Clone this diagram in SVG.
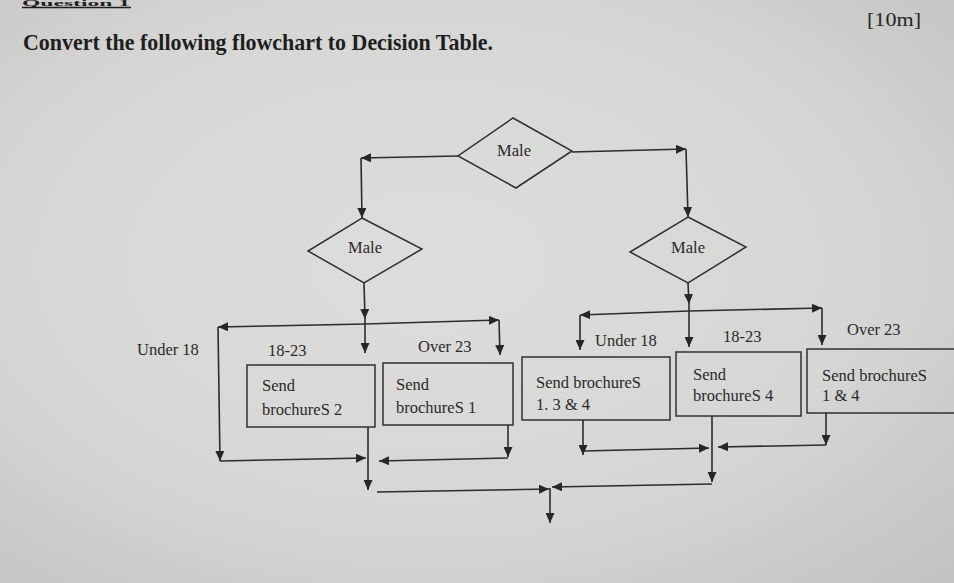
<svg xmlns="http://www.w3.org/2000/svg" width="954" height="583" viewBox="0 0 954 583">
  <defs>
    <radialGradient id="bg" cx="45%" cy="45%" r="75%">
      <stop offset="0" stop-color="#dddddb"/>
      <stop offset="0.6" stop-color="#d6d6d4"/>
      <stop offset="1" stop-color="#c3c4c2"/>
    </radialGradient>
    <marker id="arr" viewBox="0 0 10 9" refX="10" refY="4.5" markerWidth="10" markerHeight="9" markerUnits="userSpaceOnUse" orient="auto">
      <path d="M0,0 L10,4.5 L0,9 z" fill="#262626"/>
    </marker>
  </defs>
  <style>
    .shape { fill: none; stroke: #303030; stroke-width: 1.5; }
    .conn { fill: none; stroke: #2c2c2c; stroke-width: 1.6; marker-end: url(#arr); }
    .lbl { font-family: "Liberation Serif", "Times New Roman", serif; font-size: 16.5px; fill: #2a2a2a; }
    .mid { text-anchor: middle; }
    .title { font-family: "Liberation Serif", "Times New Roman", serif; font-weight: bold; fill: #1e1e1e; }
  </style>

  <rect x="0" y="0" width="954" height="583" fill="url(#bg)"/>

  <!-- header -->
  <g id="header">
    <text class="title" x="22" y="6" font-size="8" textLength="108" lengthAdjust="spacingAndGlyphs">Question 1</text>
    <line x1="22" y1="7.5" x2="131" y2="7.5" stroke="#1e1e1e" stroke-width="1.6"/>
    <text class="title" x="23" y="50" font-size="23" textLength="470" lengthAdjust="spacingAndGlyphs">Convert the following flowchart to Decision Table.</text>
    <text x="867" y="26" font-family="'Liberation Serif', 'Times New Roman', serif" font-size="19" fill="#262626" textLength="54" lengthAdjust="spacingAndGlyphs">[10m]</text>
  </g>

  <!-- decision nodes -->
  <g id="d-top">
    <polygon class="shape" points="513,118 572,151 516,188 458,156"/>
    <text class="lbl mid" x="514" y="156">Male</text>
  </g>
  <g id="d-left">
    <polygon class="shape" points="362,218 422,249 364,283 308,251"/>
    <text class="lbl mid" x="365" y="253">Male</text>
  </g>
  <g id="d-right">
    <polygon class="shape" points="688,217 746,247 688,283 630,252"/>
    <text class="lbl mid" x="688" y="253">Male</text>
  </g>

  <!-- branch labels -->
  <g id="labels">
    <text class="lbl" x="137" y="355">Under 18</text>
    <text class="lbl" x="268" y="356">18-23</text>
    <text class="lbl" x="418" y="352">Over 23</text>
    <text class="lbl" x="595" y="346">Under 18</text>
    <text class="lbl" x="723" y="342">18-23</text>
    <text class="lbl" x="847" y="335">Over 23</text>
  </g>

  <!-- process boxes -->
  <g id="box1">
    <rect class="shape" x="247" y="365" width="128" height="62"/>
    <text class="lbl" x="262" y="391">Send</text>
    <text class="lbl" x="262" y="415">brochureS 2</text>
  </g>
  <g id="box2">
    <rect class="shape" x="383" y="363" width="130" height="62"/>
    <text class="lbl" x="396" y="390">Send</text>
    <text class="lbl" x="396" y="413">brochureS 1</text>
  </g>
  <g id="box3">
    <rect class="shape" x="522" y="357" width="148" height="63"/>
    <text class="lbl" x="536" y="388">Send brochureS</text>
    <text class="lbl" x="536" y="410">1. 3 &amp; 4</text>
  </g>
  <g id="box4">
    <rect class="shape" x="676" y="352" width="125" height="64"/>
    <text class="lbl" x="693" y="380">Send</text>
    <text class="lbl" x="693" y="401">brochureS 4</text>
  </g>
  <g id="box5">
    <rect class="shape" x="807" y="349" width="160" height="64"/>
    <text class="lbl" x="822" y="381">Send brochureS</text>
    <text class="lbl" x="822" y="401">1 &amp; 4</text>
  </g>

  <!-- connectors -->
  <g id="connectors">
    <path class="conn" d="M458,156 L361,158"/>
    <path class="conn" d="M361,158 L362,218"/>
    <path class="conn" d="M572,152 L686,149"/>
    <path class="conn" d="M686,149 L688,217"/>

    <path class="conn" d="M364,283 L365,319"/>
    <path class="conn" d="M365,319 L365,353"/>
    <path class="conn" d="M365,324 L218,327"/>
    <path class="conn" d="M365,324 L499,320"/>
    <path class="conn" d="M218,327 L220,461"/>
    <path class="conn" d="M220,461 L366,458"/>
    <path class="conn" d="M499,320 L500,355"/>
    <path class="conn" d="M368,427 L368,490"/>
    <path class="conn" d="M508,425 L508,457"/>
    <path class="conn" d="M508,458 L379,461"/>

    <path class="conn" d="M688,283 L689,304"/>
    <path class="conn" d="M689,304 L689,347"/>
    <path class="conn" d="M689,311 L580,315"/>
    <path class="conn" d="M689,311 L822,308"/>
    <path class="conn" d="M580,315 L580,350"/>
    <path class="conn" d="M822,308 L822,345"/>
    <path class="conn" d="M583,420 L583,455"/>
    <path class="conn" d="M583,451 L709,448"/>
    <path class="conn" d="M712,416 L712,482"/>
    <path class="conn" d="M826,413 L826,445"/>
    <path class="conn" d="M826,445 L718,447"/>

    <path class="conn" d="M377,492 L549,489"/>
    <path class="conn" d="M712,484 L552,487"/>
    <path class="conn" d="M550,488 L550,523"/>
  </g>
</svg>
